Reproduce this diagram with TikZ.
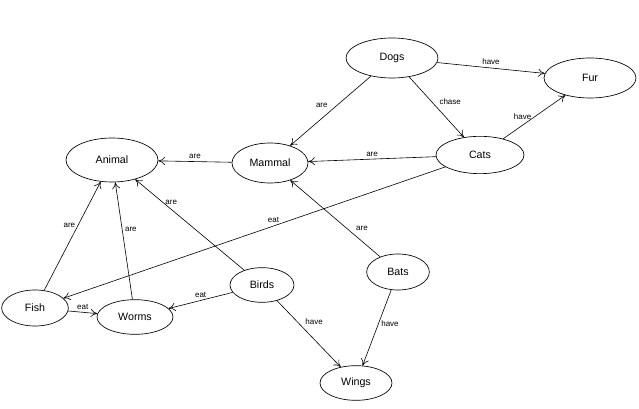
\documentclass[tikz,border=0pt]{standalone}
\usepackage{fontspec}
\setmainfont{Liberation Sans}
\usetikzlibrary{shapes.geometric,arrows.meta}
\begin{document}
\begin{tikzpicture}[x=0.75pt,y=-0.75pt,
  ell/.style={ellipse,draw,line width=0.5pt,inner sep=0pt,font=\fontsize{8}{9}\selectfont},
  lab/.style={font=\fontsize{6}{7}\selectfont,inner sep=2pt},
  conn/.style={-{To[length=5pt,width=6pt]},line width=0.45pt}]
\useasboundingbox (0,0) rectangle (639,409);
\node[ell,minimum width=69pt,minimum height=30pt] (dogs) at (392,58) {Dogs};
\node[ell,minimum width=69pt,minimum height=30pt] (fur) at (590,78) {Fur};
\node[ell,minimum width=69pt,minimum height=33pt] (animal) at (112,160) {Animal};
\node[ell,minimum width=57pt,minimum height=30pt] (mammal) at (270,163) {Mammal};
\node[ell,minimum width=66pt,minimum height=28pt] (cats) at (480,155) {Cats};
\node[ell,minimum width=47pt,minimum height=27pt] (bats) at (398,272) {Bats};
\node[ell,minimum width=48pt,minimum height=26pt] (birds) at (262,285) {Birds};
\node[ell,minimum width=50pt,minimum height=27pt] (fish) at (35,308) {Fish};
\node[ell,minimum width=57pt,minimum height=26pt] (worms) at (135,317) {Worms};
\node[ell,minimum width=54pt,minimum height=26pt] (wings) at (356,383) {Wings};
\draw[conn] (dogs) -- node[lab,above] {have} (fur);
\draw[conn] (dogs) -- node[lab,above left] {are} (mammal);
\draw[conn] (dogs) -- node[lab,above right] {chase} (cats);
\draw[conn] (cats) -- node[lab,left] {have} (fur);
\draw[conn] (cats) -- node[lab,above] {are} (mammal);
\draw[conn] (mammal) -- node[lab,above] {are} (animal);
\draw[conn] (cats) -- node[lab,above,pos=0.45] {eat} (fish);
\draw[conn] (birds) -- node[lab,right,pos=0.75] {are} (animal);
\draw[conn] (bats) -- node[lab,above right,pos=0.3] {are} (mammal);
\draw[conn] (fish) -- node[lab,left,pos=0.6] {are} (animal);
\draw[conn] (worms) -- node[lab,right,pos=0.6] {are} (animal);
\draw[conn] (fish) -- node[lab,above] {eat} (worms);
\draw[conn] (birds) -- node[lab,above] {eat} (worms);
\draw[conn] (birds) -- node[lab,above right,pos=0.4] {have} (wings);
\draw[conn] (bats) -- node[lab,right,pos=0.45] {have} (wings);
\end{tikzpicture}
\end{document}
